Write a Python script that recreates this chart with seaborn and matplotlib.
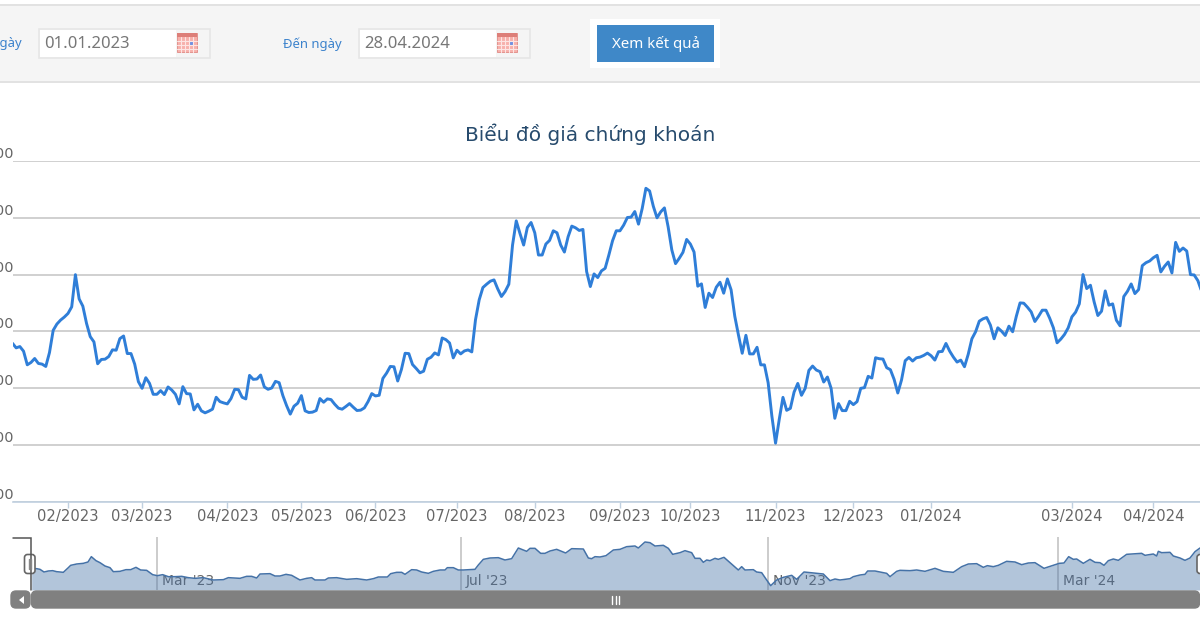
import numpy as np
import matplotlib
matplotlib.use("Agg")
import matplotlib.pyplot as plt
from matplotlib.patches import Rectangle, FancyBboxPatch, Polygon
import seaborn as sns

# ---------- data ----------
price = [
 12793,12712,12735,12653,12414,12455,12525,12438,12426,12385,12630,13021,13131,13201,13254,13318,13434,14000,13574,13446,
 13143,12910,12817,12432,12508,12513,12560,12677,12671,12875,12921,12612,12612,12426,12117,12000,12187,12088,11895,11895,
 11960,11890,12024,11971,11895,11726,12029,11907,11901,11621,11720,11604,11569,11598,11633,11843,11767,11744,11726,11820,
 11983,11977,11843,11814,12228,12158,12164,12234,12024,11983,12006,12123,12099,11872,11697,11546,11685,11738,11872,11604,
 11575,11581,11610,11820,11755,11814,11802,11720,11651,11633,11680,11732,11668,11610,11616,11656,11767,11907,11866,11878,
 12175,12268,12385,12379,12129,
 12331,12617,12611,12419,12349,12273,12302,12512,12547,12623,12588,12886,12857,12798,12536,12670,12606,12658,12676,12641,
 13207,13558,13774,13832,13885,13908,13750,13616,13704,13832,14521,14947,14726,14521,14831,14918,14737,14346,14346,14539,
 14603,14772,14737,14521,14398,14667,14854,14825,14778,14796,14054,13791,14013,13949,14066,14112,14346,14597,14772,14772,
 14872,15006,15012,15111,14889,15164,15520,15473,15204,15000,15105,15175,14842,14434,14194,14288,14393,14620,14539,14398,
 13797,13838,13423,13674,13598,13779,13867,13674,13925,13733,13266,12933,12617,12933,12606,12606,12722,12413,12413,12098,
 11514,11035,11455,11841,11613,11648,11934,12086,
 11877,12000,12316,12392,12322,12293,12111,12199,12000,11473,11731,11608,11608,11772,11713,11766,12000,12012,12211,12181,
 12538,12521,12515,12363,12328,12158,11918,12146,12486,12544,12480,12538,12550,12579,12620,12573,12497,12644,12649,12790,
 12655,12550,12462,12497,12380,12597,12872,12995,13182,13223,13246,13112,12872,13065,13006,12930,13094,12995,13269,13503,
 13498,13427,13346,13176,13269,13375,13375,13234,13065,12801,12866,12948,13065,13258,13340,13486,14001,13755,13814,13521,
 13281,13357,13714,13463,13486,13199,13100,13615,13708,13837,13667,13737,14159,14211,14241,14299,14340,14048,14147,14223,
 14030,14568,14410,14469,14416,14001,13995,13895,13708,
]
session = np.arange(len(price))

month_sessions = [15, 35, 58, 78, 98, 120, 141, 164, 183, 206, 227, 248, 286, 308]
month_labels = ["02/2023", "03/2023", "04/2023", "05/2023", "06/2023", "07/2023", "08/2023",
                "09/2023", "10/2023", "11/2023", "12/2023", "01/2024", "03/2024", "04/2024"]
price_ticks = [10000, 11000, 12000, 13000, 14000, 15000, 16000]
price_labels = ["10,000", "11,000", "12,000", "13,000", "14,000", "15,000", "16,000"]

# navigator series: position along the navigator strip, overview price
nav_pos = [
 95,110,120,132,145,158,170,190,205,212,230,250,264,274,288,300,315,330,340,360,378,392,408,422,440,458,472,488,505,525,
 545,565,585,610,640,670,685,720,740,755,770,780,810,825,840,858,875,900,920,935,945,975,985,1010,1040,1070,1100,1120,
 1135,1162,1172,1190,1205,1215,1235,1250,1265,1285,1300,1320,1335,1342,1360,1375,1390,1425,1435,1450,1470,1495,1515,
 1535,1555,1580,1590,1605,1622,1635,1650,1670,1697,1715,1750,1765,1775,1785,1800,1818,1840,1860,1880,1905,1915,1935,
 1950,1965,1990,2005,2018,2040,2055,2075,2085,2100,2110,2120,2130,2145,2155,2172,2190,2215,2225,2235,2260,2270,2285,
 2300,2312,2330,2350,2375,2390,2412,2440,2470,2490,2505,2520,2550,2560,2580,2595,2603,2625,2660,2670,2690,2700,2730,
 2750,2775,2805,2830,2860,2885,2905,2930,2950,2962,2980,2995,3020,3045,3065,3085,3105,3132,3160,3178,3192,3206,3220,
 3230,3250,3270,3285,3300,3312,3325,3340,3355,3380,3425,3435,3460,3470,3475,3485,3510,3520,3540,3555,3570,3585,3600,
]
nav_price = [
 12769,12769,12701,12429,12531,12565,12463,12395,12871,13109,13245,13313,13449,13993,13585,13381,13041,12871,12463,12497,
 12667,12667,12905,12633,12599,12157,12055,12157,11953,11953,11987,11851,11783,11851,11613,11647,11851,11783,11987,11987,
 11817,12225,12259,12021,12021,12191,12089,11613,11783,11851,11613,11613,11817,11851,11681,11749,11613,11749,11919,11919,
 12259,12395,12395,12191,12667,12633,12429,12293,12497,12633,12633,12871,12871,12633,12633,12701,13143,13721,13857,13891,
 13653,13789,14877,14537,14843,14843,14333,14333,14571,14741,14367,14809,14775,13857,13789,13993,13959,14095,14673,14741,
 15013,15081,14877,15489,15421,15081,15149,14843,14231,14401,14605,14401,13823,13823,13415,13653,13585,13823,13721,13925,
 13381,12633,12973,12633,12667,12429,12361,11613,11035,11613,11885,12089,11681,12429,12327,12225,11545,11715,11613,11749,
 11953,12123,12191,12531,12531,12293,11953,12497,12599,12565,12633,12497,12803,12497,12395,12973,13245,13279,12905,13075,
 12973,13109,13517,13449,13177,13347,13381,12803,13109,13313,13347,13993,13721,13755,13313,13721,13415,13381,13109,13585,
 13755,13619,14231,14333,14129,14265,14061,14537,14401,14435,14061,13857,13619,13857,14503,14877,
]
nav_tick_pos = [471, 1383, 2303, 3175]
nav_tick_labels = ["Mar '23", "Jul '23", "Nov '23", "Mar '24"]

title_text = "Biểu đồ giá chứng khoán"
from_label, to_label = "Từ ngày", "Đến ngày"
from_date, to_date = "01.01.2023", "28.04.2024"
button_label = "Xem kết quả"

# ---------- figure ----------
sns.set_theme(style="white")
plt.rcParams["font.family"] = ["DejaVu Sans"]
W, H = 1200, 630
fig = plt.figure(figsize=(12, 6.3), dpi=100, facecolor="white")

def px_axes(left, top, right, bottom, **kw):
    return fig.add_axes([left / W, 1 - bottom / H, (right - left) / W, (bottom - top) / H], **kw)

# page furniture behind the chart
bg = fig.add_axes([0, 0, 1, 1], zorder=0)
bg.set_xlim(0, W); bg.set_ylim(H, 0); bg.axis("off")
bg.add_patch(Rectangle((0, 5), W, 77, fc="#f5f5f5", ec="none"))
bg.plot([0, W], [5, 5], color="#e2e2e2", lw=1.4)
bg.plot([0, W], [82, 82], color="#e2e2e2", lw=1.4)

def date_box(x0, text):
    bg.add_patch(Rectangle((x0, 29), 170.5, 29, fc="#f5f5f5", ec="#e6e6e6", lw=1.2))
    bg.add_patch(Rectangle((x0 + 1, 30), 136, 27, fc="white", ec="none"))
    bg.text(x0 + 5, 43.5, text, family="Noto Sans", fontsize=12, color="#777777", va="center", ha="left")
    ix, iy = x0 + 138, 33
    bg.add_patch(Rectangle((ix, iy), 20, 19, fc="#f7b0aa", ec="#e08a84", lw=0.6))
    bg.add_patch(Rectangle((ix, iy), 20, 3.5, fc="#dd7f79", ec="none"))
    for k in range(1, 5):
        bg.plot([ix + 4 * k, ix + 4 * k], [iy + 4, iy + 19], color="#fde5e3", lw=0.8)
    for k in range(1, 4):
        bg.plot([ix, ix + 20], [iy + 4 + 4 * k, iy + 4 + 4 * k], color="#fde5e3", lw=0.8)
    bg.add_patch(Rectangle((ix + 12, iy + 8), 4, 4, fc="#6f8fe0", ec="#3f62c8", lw=0.6))

date_box(39, from_date)
date_box(359, to_date)
bg.text(22, 44, from_label, family="Noto Sans", fontsize=9.4, color="#3b82cc", ha="right", va="center")
bg.text(283, 44, to_label, family="Noto Sans", fontsize=9.4, color="#3b82cc", ha="left", va="center")
bg.add_patch(Rectangle((590, 19), 130, 49, fc="white", ec="none"))
bg.add_patch(Rectangle((597, 25), 117, 37, fc="#3f88c8", ec="none"))
bg.text(655.5, 44, button_label, family="Noto Sans", fontsize=10.8, color="white", ha="center", va="center")
bg.text(590.5, 134, title_text, fontsize=14.5, color="#274b6d", ha="center", va="center")

# main price chart
ax = px_axes(13, 161, 1200, 502, zorder=2, facecolor="none")
sns.lineplot(x=session, y=price, ax=ax, color="#2f7ed8", linewidth=2.1, errorbar=None, clip_on=True)
ax.set_xlim(0.15, 0.2 + (1200 - 13) / 3.705)
ax.set_ylim(10000, 16000)
ax.set_yticks(price_ticks, price_labels)
ax.set_xticks(month_sessions, month_labels)
ax.set_xlabel(""); ax.set_ylabel("")
ax.grid(axis="y", color="#c8c8c8", lw=1.2)
ax.grid(axis="x", visible=False)
ax.set_axisbelow(True)
for s in ["top", "left", "right"]:
    ax.spines[s].set_visible(False)
ax.spines["bottom"].set_color("#c0d0e0")
ax.spines["bottom"].set_linewidth(1.2)
ax.tick_params(axis="x", length=4, width=1, color="#c0d0e0", labelcolor="#666666", labelsize=10.6, pad=1, bottom=True)
ax.tick_params(axis="y", length=0, labelcolor="#666666", labelsize=10.4, pad=-1)
for lab in ax.get_yticklabels():
    lab.set_va("bottom")

# navigator strip
nav = px_axes(0, 537, 1200, 590, zorder=3, facecolor="none")
nav.set_xlim(0, 3600)
nav.set_ylim(10593, 15999)
nav.set_xticks(nav_tick_pos)
nav.set_yticks([])
nav.tick_params(axis="x", length=0, labelbottom=False)
nav.grid(axis="x", color="#c4c4c4", lw=1.2)
nav.grid(axis="y", visible=False)
nav.set_axisbelow(True)
for s in nav.spines.values():
    s.set_visible(False)
for p, t in zip(nav_tick_pos, nav_tick_labels):
    nav.text(p + 15, 11560, t, fontsize=10, color="#666666", ha="left", va="center", zorder=1.5)
nav.fill_between(nav_pos, nav_price, 10593, color="#4572a7", alpha=0.41, lw=0, zorder=2)
sns.lineplot(x=nav_pos, y=nav_price, ax=nav, color="#4572a7", linewidth=1.1, errorbar=None, zorder=3)
nav.set_xlabel(""); nav.set_ylabel("")

# navigator handles and scrollbar
top = fig.add_axes([0, 0, 1, 1], zorder=5, facecolor="none")
top.set_xlim(0, W); top.set_ylim(H, 0); top.axis("off")
top.plot([12.5, 31, 31], [538, 538, 590], color="#555555", lw=1.1, solid_joinstyle="miter")
top.add_patch(FancyBboxPatch((31.5, 591), 1168, 17, boxstyle="round,pad=0,rounding_size=5", fc="#808080", ec="#808080", lw=1))
top.add_patch(FancyBboxPatch((11, 591), 19, 17, boxstyle="round,pad=0,rounding_size=5", fc="#808080", ec="#808080", lw=1))
top.add_patch(Polygon([[24, 596], [24, 604], [19, 600]], closed=True, fc="white", ec="none"))
for gx in (612, 615.5, 619):
    top.plot([gx, gx], [596, 604], color="white", lw=1)
for hx in (24.5, 1197):
    top.add_patch(FancyBboxPatch((hx, 554.5), 10.5, 19, boxstyle="round,pad=0,rounding_size=3", fc="white", ec="#666666", lw=1.2, clip_on=True))
    top.plot([hx + 4, hx + 4], [559, 569], color="#888888", lw=1)
    top.plot([hx + 6.5, hx + 6.5], [559, 569], color="#888888", lw=1)

fig.savefig("out.png", dpi=100)
